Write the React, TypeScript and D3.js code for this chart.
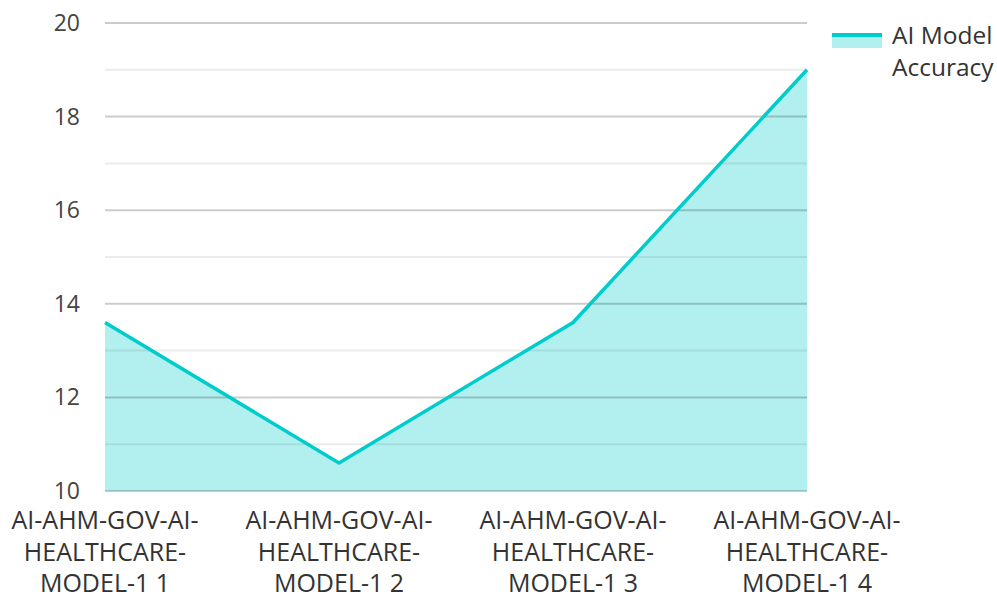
import React, { useEffect, useRef } from 'react';
import * as d3 from 'd3';

// Chart data
const categories = [
  'AI-AHM-GOV-AI-HEALTHCARE-MODEL-1 1',
  'AI-AHM-GOV-AI-HEALTHCARE-MODEL-1 2',
  'AI-AHM-GOV-AI-HEALTHCARE-MODEL-1 3',
  'AI-AHM-GOV-AI-HEALTHCARE-MODEL-1 4',
];
const accuracy = [13.6, 10.6, 13.6, 19.0];
const labelLines = [
  ['AI-AHM-GOV-AI-', 'HEALTHCARE-', 'MODEL-1 1'],
  ['AI-AHM-GOV-AI-', 'HEALTHCARE-', 'MODEL-1 2'],
  ['AI-AHM-GOV-AI-', 'HEALTHCARE-', 'MODEL-1 3'],
  ['AI-AHM-GOV-AI-', 'HEALTHCARE-', 'MODEL-1 4'],
];
const majorTicks = [10, 12, 14, 16, 18, 20];
const minorTicks = [11, 13, 15, 17, 19];
const seriesName = ['AI Model', 'Accuracy'];

const W = 997;
const H = 595;
const margin = { left: 105, right: 190, top: 23, bottom: 104 };

const App: React.FC = () => {
  const svgRef = useRef<SVGSVGElement>(null);

  useEffect(() => {
    if (!svgRef.current) return;
    const svg = d3.select(svgRef.current);
    svg.selectAll('*').remove();

    const x = d3.scalePoint<string>()
      .domain(categories)
      .range([margin.left, W - margin.right])
      .padding(0);
    const y = d3.scaleLinear()
      .domain([10, 20])
      .range([H - margin.bottom, margin.top]);

    const font = "'Open Sans', sans-serif";

    // area fill
    const area = d3.area<number>()
      .x((_, i) => x(categories[i])!)
      .y0(y(10))
      .y1(d => y(d));
    svg.append('path')
      .datum(accuracy)
      .attr('d', area)
      .attr('fill', '#b2f0ef');

    // gridlines
    const grid = svg.append('g');
    grid.selectAll('line.minor')
      .data(minorTicks)
      .join('line')
      .attr('class', 'minor')
      .attr('x1', margin.left)
      .attr('x2', W - margin.right)
      .attr('y1', d => y(d))
      .attr('y2', d => y(d))
      .attr('stroke', 'rgba(0,0,0,0.08)')
      .attr('stroke-width', 2);
    grid.selectAll('line.major')
      .data(majorTicks)
      .join('line')
      .attr('class', 'major')
      .attr('x1', margin.left)
      .attr('x2', W - margin.right)
      .attr('y1', d => y(d))
      .attr('y2', d => y(d))
      .attr('stroke', 'rgba(0,0,0,0.2)')
      .attr('stroke-width', 2);

    // line
    const line = d3.line<number>()
      .x((_, i) => x(categories[i])!)
      .y(d => y(d));
    svg.append('path')
      .datum(accuracy)
      .attr('d', line)
      .attr('fill', 'none')
      .attr('stroke', '#00cccc')
      .attr('stroke-width', 3.5);

    // y tick labels
    svg.append('g')
      .selectAll('text')
      .data(majorTicks)
      .join('text')
      .attr('x', 80)
      .attr('y', d => y(d))
      .attr('dy', '0.35em')
      .attr('text-anchor', 'end')
      .attr('font-family', font)
      .attr('font-size', 23)
      .attr('fill', '#444')
      .text(d => d);

    // x tick labels
    const xl = svg.append('g')
      .selectAll('text')
      .data(categories)
      .join('text')
      .attr('text-anchor', 'middle')
      .attr('font-family', font)
      .attr('font-size', 25)
      .attr('fill', '#333');
    xl.each(function (d, i) {
      const t = d3.select(this);
      labelLines[i].forEach((ln, j) => {
        t.append('tspan')
          .attr('x', x(d)!)
          .attr('y', 529 + j * 31.5)
          .text(ln);
      });
    });

    // legend
    const lg = svg.append('g');
    lg.append('rect')
      .attr('x', 832).attr('y', 35).attr('width', 50).attr('height', 13)
      .attr('fill', '#b2f0ef');
    lg.append('line')
      .attr('x1', 832).attr('x2', 882).attr('y1', 35).attr('y2', 35)
      .attr('stroke', '#00cccc').attr('stroke-width', 4);
    lg.append('text')
      .attr('font-family', font)
      .attr('font-size', 24.5)
      .attr('fill', '#333')
      .selectAll('tspan')
      .data(seriesName)
      .join('tspan')
      .attr('x', 892)
      .attr('y', (_, i) => 44 + i * 32)
      .text(d => d);
  }, []);

  return (
    <svg
      ref={svgRef}
      width={W}
      height={H}
      style={{ position: 'absolute', left: 0, top: 0, background: '#fff' }}
    />
  );
};

export default App;
